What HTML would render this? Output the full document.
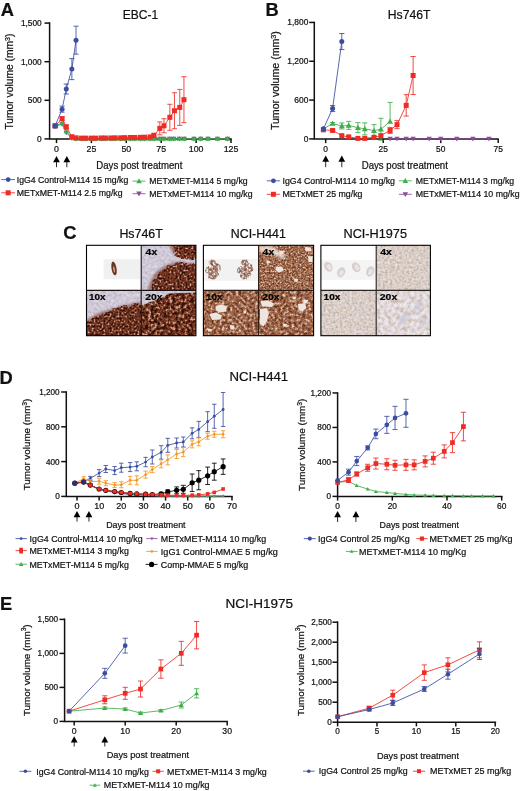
<!DOCTYPE html>
<html lang="en"><head><meta charset="utf-8"><title>Tumor volume figure</title>
<style>html,body{margin:0;padding:0;background:#fff}svg{display:block}text{font-family:"Liberation Sans",sans-serif;fill:#111;stroke:#111;stroke-width:0.22px}</style></head><body>
<svg width="520" height="791" viewBox="0 0 520 791">
<rect width="520" height="791" fill="#fff"/>

<!-- panel A -->
<text x="0.7" y="16.4" font-size="18.3" font-weight="bold">A</text>
<text x="140.5" y="18.6" font-size="12.8" text-anchor="middle" textLength="35.4" lengthAdjust="spacingAndGlyphs">EBC-1</text>
<g stroke="#111111" stroke-width="1.5" fill="none" stroke-linecap="butt"><path d="M49.6 22.35V138.9H231.75"/><path d="M56.5 138.9v4.2"/><path d="M91.4 138.9v4.2"/><path d="M126.3 138.9v4.2"/><path d="M161.2 138.9v4.2"/><path d="M196.1 138.9v4.2"/><path d="M231 138.9v4.2"/><path d="M49.6 138.9h-5.1"/><path d="M49.6 100.3h-5.1"/><path d="M49.6 61.7h-5.1"/><path d="M49.6 23.1h-5.1"/></g>
<text x="56.5" y="152.3" font-size="8.8" text-anchor="middle">0</text>
<text x="91.4" y="152.3" font-size="8.8" text-anchor="middle">25</text>
<text x="126.3" y="152.3" font-size="8.8" text-anchor="middle">50</text>
<text x="161.2" y="152.3" font-size="8.8" text-anchor="middle">75</text>
<text x="196.1" y="152.3" font-size="8.8" text-anchor="middle">100</text>
<text x="231" y="152.3" font-size="8.8" text-anchor="middle">125</text>
<text x="41.7" y="141.89" font-size="8.3" text-anchor="end">0</text>
<text x="41.7" y="103.29" font-size="8.3" text-anchor="end">500</text>
<text x="41.7" y="64.69" font-size="8.3" text-anchor="end">1,000</text>
<text x="41.7" y="26.09" font-size="8.3" text-anchor="end">1,500</text>
<text x="96.3" y="168.6" font-size="10.3" textLength="86" lengthAdjust="spacingAndGlyphs">Days post treatment</text>
<text transform="translate(13.3 81.6) rotate(-90)" font-size="10" text-anchor="middle" textLength="96" lengthAdjust="spacingAndGlyphs">Tumor volume (mm<tspan font-size="6.8" dy="-3.2">3</tspan><tspan dy="3.2">)</tspan></text>
<g><path d="M55.1 125.93L62.08 124.23L66.27 132.72L71.86 138.28L76.04 138.9L81.63 138.9L85.82 138.9L91.4 138.9L95.59 138.9L101.17 138.9L105.36 138.9L110.94 138.9L115.13 138.9L120.72 138.9L124.9 138.9L130.49 138.9L134.68 138.9L140.26 138.9L144.45 138.9L150.03 138.9L154.22 138.9L159.8 138.9L163.99 138.9L169.58 138.9L173.76 138.9L179.35 138.9L184.23 138.9L194.01 138.9L200.71 138.9L207.97 138.9L217.46 138.9L227.51 138.9" stroke="#8e4a9d" stroke-width="0.85" fill="none" stroke-linejoin="round"/><path d="M55.1 128.57L57.74 123.89L52.46 123.89Z" fill="#8e4a9d"/><path d="M62.08 126.87L64.72 122.19L59.44 122.19Z" fill="#8e4a9d"/><path d="M66.27 135.36L68.91 130.68L63.63 130.68Z" fill="#8e4a9d"/><path d="M71.86 140.92L74.5 136.24L69.22 136.24Z" fill="#8e4a9d"/><path d="M76.04 141.54L78.68 136.86L73.4 136.86Z" fill="#8e4a9d"/><path d="M81.63 141.54L84.27 136.86L78.99 136.86Z" fill="#8e4a9d"/><path d="M85.82 141.54L88.46 136.86L83.18 136.86Z" fill="#8e4a9d"/><path d="M91.4 141.54L94.04 136.86L88.76 136.86Z" fill="#8e4a9d"/><path d="M95.59 141.54L98.23 136.86L92.95 136.86Z" fill="#8e4a9d"/><path d="M101.17 141.54L103.81 136.86L98.53 136.86Z" fill="#8e4a9d"/><path d="M105.36 141.54L108 136.86L102.72 136.86Z" fill="#8e4a9d"/><path d="M110.94 141.54L113.58 136.86L108.3 136.86Z" fill="#8e4a9d"/><path d="M115.13 141.54L117.77 136.86L112.49 136.86Z" fill="#8e4a9d"/><path d="M120.72 141.54L123.36 136.86L118.08 136.86Z" fill="#8e4a9d"/><path d="M124.9 141.54L127.54 136.86L122.26 136.86Z" fill="#8e4a9d"/><path d="M130.49 141.54L133.13 136.86L127.85 136.86Z" fill="#8e4a9d"/><path d="M134.68 141.54L137.32 136.86L132.04 136.86Z" fill="#8e4a9d"/><path d="M140.26 141.54L142.9 136.86L137.62 136.86Z" fill="#8e4a9d"/><path d="M144.45 141.54L147.09 136.86L141.81 136.86Z" fill="#8e4a9d"/><path d="M150.03 141.54L152.67 136.86L147.39 136.86Z" fill="#8e4a9d"/><path d="M154.22 141.54L156.86 136.86L151.58 136.86Z" fill="#8e4a9d"/><path d="M159.8 141.54L162.44 136.86L157.16 136.86Z" fill="#8e4a9d"/><path d="M163.99 141.54L166.63 136.86L161.35 136.86Z" fill="#8e4a9d"/><path d="M169.58 141.54L172.22 136.86L166.94 136.86Z" fill="#8e4a9d"/><path d="M173.76 141.54L176.4 136.86L171.12 136.86Z" fill="#8e4a9d"/><path d="M179.35 141.54L181.99 136.86L176.71 136.86Z" fill="#8e4a9d"/><path d="M184.23 141.54L186.87 136.86L181.59 136.86Z" fill="#8e4a9d"/><path d="M194.01 141.54L196.65 136.86L191.37 136.86Z" fill="#8e4a9d"/><path d="M200.71 141.54L203.35 136.86L198.07 136.86Z" fill="#8e4a9d"/><path d="M207.97 141.54L210.61 136.86L205.33 136.86Z" fill="#8e4a9d"/><path d="M217.46 141.54L220.1 136.86L214.82 136.86Z" fill="#8e4a9d"/><path d="M227.51 141.54L230.15 136.86L224.87 136.86Z" fill="#8e4a9d"/></g>
<g><path d="M55.1 125.93L62.08 123.07L66.27 131.18L71.86 137.82L76.04 138.75L81.63 138.75L85.82 138.75L91.4 138.75L95.59 138.75L101.17 138.75L105.36 138.75L110.94 138.75L115.13 138.75L120.72 138.75L124.9 138.75L130.49 138.75L134.68 138.75L140.26 138.75L144.45 138.75L150.03 138.75L154.22 138.75L159.8 138.75L163.99 138.75L169.58 138.75L173.76 138.75L179.35 138.75L184.23 138.75L194.01 138.75L200.71 138.75L207.97 138.75L217.46 138.75L227.51 138.75" stroke="#3fae49" stroke-width="0.85" fill="none" stroke-linejoin="round"/><path d="M55.1 123.18L57.85 128.06L52.35 128.06Z" fill="#3fae49"/><path d="M62.08 120.32L64.83 125.2L59.33 125.2Z" fill="#3fae49"/><path d="M66.27 128.43L69.02 133.31L63.52 133.31Z" fill="#3fae49"/><path d="M71.86 135.07L74.61 139.94L69.11 139.94Z" fill="#3fae49"/><path d="M76.04 136L78.79 140.87L73.29 140.87Z" fill="#3fae49"/><path d="M81.63 136L84.38 140.87L78.88 140.87Z" fill="#3fae49"/><path d="M85.82 136L88.57 140.87L83.07 140.87Z" fill="#3fae49"/><path d="M91.4 136L94.15 140.87L88.65 140.87Z" fill="#3fae49"/><path d="M95.59 136L98.34 140.87L92.84 140.87Z" fill="#3fae49"/><path d="M101.17 136L103.92 140.87L98.42 140.87Z" fill="#3fae49"/><path d="M105.36 136L108.11 140.87L102.61 140.87Z" fill="#3fae49"/><path d="M110.94 136L113.69 140.87L108.19 140.87Z" fill="#3fae49"/><path d="M115.13 136L117.88 140.87L112.38 140.87Z" fill="#3fae49"/><path d="M120.72 136L123.47 140.87L117.97 140.87Z" fill="#3fae49"/><path d="M124.9 136L127.65 140.87L122.15 140.87Z" fill="#3fae49"/><path d="M130.49 136L133.24 140.87L127.74 140.87Z" fill="#3fae49"/><path d="M134.68 136L137.43 140.87L131.93 140.87Z" fill="#3fae49"/><path d="M140.26 136L143.01 140.87L137.51 140.87Z" fill="#3fae49"/><path d="M144.45 136L147.2 140.87L141.7 140.87Z" fill="#3fae49"/><path d="M150.03 136L152.78 140.87L147.28 140.87Z" fill="#3fae49"/><path d="M154.22 136L156.97 140.87L151.47 140.87Z" fill="#3fae49"/><path d="M159.8 136L162.55 140.87L157.05 140.87Z" fill="#3fae49"/><path d="M163.99 136L166.74 140.87L161.24 140.87Z" fill="#3fae49"/><path d="M169.58 136L172.33 140.87L166.83 140.87Z" fill="#3fae49"/><path d="M173.76 136L176.51 140.87L171.01 140.87Z" fill="#3fae49"/><path d="M179.35 136L182.1 140.87L176.6 140.87Z" fill="#3fae49"/><path d="M184.23 136L186.98 140.87L181.48 140.87Z" fill="#3fae49"/><path d="M194.01 136L196.76 140.87L191.26 140.87Z" fill="#3fae49"/><path d="M200.71 136L203.46 140.87L197.96 140.87Z" fill="#3fae49"/><path d="M207.97 136L210.72 140.87L205.22 140.87Z" fill="#3fae49"/><path d="M217.46 136L220.21 140.87L214.71 140.87Z" fill="#3fae49"/><path d="M227.51 136L230.26 140.87L224.76 140.87Z" fill="#3fae49"/></g>
<g><path d="M62.08 116.67V120.67M59.48 116.67h5.2M59.48 120.67h5.2M66.27 124.93V128.93M63.67 124.93h5.2M63.67 128.93h5.2M153.94 133.35V137.35M151.34 133.35h5.2M151.34 137.35h5.2M159.8 121.9V134.9M157.2 121.9h5.2M157.2 134.9h5.2M163.99 118.78V132.78M161.39 118.78h5.2M161.39 132.78h5.2M169.86 104.28V130.28M167.26 104.28h5.2M167.26 130.28h5.2M174.46 92.72V128.72M171.86 92.72h5.2M171.86 128.72h5.2M179.77 89.4V125.4M177.17 89.4h5.2M177.17 125.4h5.2M183.95 76.68V122.68M181.35 76.68h5.2M181.35 122.68h5.2" stroke="#ee2b24" stroke-width="0.85" fill="none"/><path d="M55.1 125.93L62.08 118.67L66.27 126.93L71.86 136.74L76.04 137.82L81.63 138.13L85.82 138.13L91.4 138.13L95.59 138.13L101.17 137.97L105.36 137.97L110.94 137.97L115.13 137.82L120.72 137.82L124.9 137.66L130.49 137.51L134.68 137.51L140.26 137.36L144.45 137.2L150.03 136.89L153.94 135.35L159.8 128.4L163.99 125.78L169.86 117.28L174.46 110.72L179.77 107.4L183.95 99.68" stroke="#ee2b24" stroke-width="0.85" fill="none" stroke-linejoin="round"/><rect x="52.6" y="123.43" width="5" height="5" fill="#ee2b24"/><rect x="59.58" y="116.17" width="5" height="5" fill="#ee2b24"/><rect x="63.77" y="124.43" width="5" height="5" fill="#ee2b24"/><rect x="69.36" y="134.24" width="5" height="5" fill="#ee2b24"/><rect x="73.54" y="135.32" width="5" height="5" fill="#ee2b24"/><rect x="79.13" y="135.63" width="5" height="5" fill="#ee2b24"/><rect x="83.32" y="135.63" width="5" height="5" fill="#ee2b24"/><rect x="88.9" y="135.63" width="5" height="5" fill="#ee2b24"/><rect x="93.09" y="135.63" width="5" height="5" fill="#ee2b24"/><rect x="98.67" y="135.47" width="5" height="5" fill="#ee2b24"/><rect x="102.86" y="135.47" width="5" height="5" fill="#ee2b24"/><rect x="108.44" y="135.47" width="5" height="5" fill="#ee2b24"/><rect x="112.63" y="135.32" width="5" height="5" fill="#ee2b24"/><rect x="118.22" y="135.32" width="5" height="5" fill="#ee2b24"/><rect x="122.4" y="135.16" width="5" height="5" fill="#ee2b24"/><rect x="127.99" y="135.01" width="5" height="5" fill="#ee2b24"/><rect x="132.18" y="135.01" width="5" height="5" fill="#ee2b24"/><rect x="137.76" y="134.86" width="5" height="5" fill="#ee2b24"/><rect x="141.95" y="134.7" width="5" height="5" fill="#ee2b24"/><rect x="147.53" y="134.39" width="5" height="5" fill="#ee2b24"/><rect x="151.44" y="132.85" width="5" height="5" fill="#ee2b24"/><rect x="157.3" y="125.9" width="5" height="5" fill="#ee2b24"/><rect x="161.49" y="123.28" width="5" height="5" fill="#ee2b24"/><rect x="167.36" y="114.78" width="5" height="5" fill="#ee2b24"/><rect x="171.96" y="108.22" width="5" height="5" fill="#ee2b24"/><rect x="177.27" y="104.9" width="5" height="5" fill="#ee2b24"/><rect x="181.45" y="97.18" width="5" height="5" fill="#ee2b24"/></g>
<g><path d="M62.08 106.18V112.18M59.48 106.18h5.2M59.48 112.18h5.2M66.27 84.03V94.03M63.67 84.03h5.2M63.67 94.03h5.2M71.86 58.61V79.61M69.26 58.61h5.2M69.26 79.61h5.2M76.04 26.16V54.16M73.44 26.16h5.2M73.44 54.16h5.2" stroke="#3b4da0" stroke-width="0.85" fill="none"/><path d="M55.1 125.93L62.08 109.18L66.27 89.03L71.86 69.11L76.04 40.16" stroke="#3b4da0" stroke-width="0.85" fill="none" stroke-linejoin="round"/><circle cx="55.1" cy="125.93" r="2.5" fill="#3b4da0"/><circle cx="62.08" cy="109.18" r="2.5" fill="#3b4da0"/><circle cx="66.27" cy="89.03" r="2.5" fill="#3b4da0"/><circle cx="71.86" cy="69.11" r="2.5" fill="#3b4da0"/><circle cx="76.04" cy="40.16" r="2.5" fill="#3b4da0"/></g>
<rect x="52.7" y="123.53" width="4.8" height="4.8" fill="#3b4da0"/>
<path d="M56.5 156L59.9 162.2L53.1 162.2Z" fill="#000"/><path d="M56.5 160V167.2" stroke="#000" stroke-width="0.85"/>
<path d="M66.83 156L70.23 162.2L63.43 162.2Z" fill="#000"/><path d="M66.83 160V167.2" stroke="#000" stroke-width="0.85"/>
<path d="M1.3 179.6H15" stroke="#3b4da0" stroke-width="0.85"/>
<circle cx="8.15" cy="179.6" r="2.4" fill="#3b4da0"/>
<text x="16.8" y="182.6" font-size="9.4" textLength="111.5" lengthAdjust="spacingAndGlyphs">IgG4 Control-M114 15 mg/kg</text>
<path d="M1.3 192.8H15" stroke="#ee2b24" stroke-width="0.85"/>
<rect x="5.65" y="190.3" width="5" height="5" fill="#ee2b24"/>
<text x="16.8" y="195.8" font-size="9.4" textLength="105.8" lengthAdjust="spacingAndGlyphs">METxMET-M114 2.5 mg/kg</text>
<path d="M132.5 181.1H145.5" stroke="#3fae49" stroke-width="0.85"/>
<path d="M139 178.35L141.75 183.22L136.25 183.22Z" fill="#3fae49"/>
<text x="149.3" y="184" font-size="9.4" textLength="98.3" lengthAdjust="spacingAndGlyphs">METxMET-M114 5 mg/kg</text>
<path d="M132.5 193.7H145.5" stroke="#8e4a9d" stroke-width="0.85"/>
<path d="M139 196.45L141.75 191.57L136.25 191.57Z" fill="#8e4a9d"/>
<text x="149.3" y="196.9" font-size="9.4" textLength="103.3" lengthAdjust="spacingAndGlyphs">METxMET-M114 10 mg/kg</text>
<!-- panel B -->
<text x="265.6" y="16.4" font-size="18.3" font-weight="bold">B</text>
<text x="409.1" y="18.6" font-size="12.8" text-anchor="middle" textLength="42.7" lengthAdjust="spacingAndGlyphs">Hs746T</text>
<g stroke="#111111" stroke-width="1.5" fill="none" stroke-linecap="butt"><path d="M314.3 21.65V138.9H498.75"/><path d="M325.7 138.9v4.2"/><path d="M383.2 138.9v4.2"/><path d="M440.7 138.9v4.2"/><path d="M498.2 138.9v4.2"/><path d="M314.3 138.9h-5.1"/><path d="M314.3 100.08h-5.1"/><path d="M314.3 61.26h-5.1"/><path d="M314.3 22.44h-5.1"/></g>
<text x="325.7" y="152.2" font-size="8.4" text-anchor="middle">0</text>
<text x="383.2" y="152.2" font-size="8.4" text-anchor="middle">25</text>
<text x="440.7" y="152.2" font-size="8.4" text-anchor="middle">50</text>
<text x="498.2" y="152.2" font-size="8.4" text-anchor="middle">75</text>
<text x="308.3" y="141.92" font-size="8.4" text-anchor="end">0</text>
<text x="308.3" y="103.1" font-size="8.4" text-anchor="end">600</text>
<text x="308.3" y="64.28" font-size="8.4" text-anchor="end">1,200</text>
<text x="308.3" y="25.46" font-size="8.4" text-anchor="end">1,800</text>
<text x="361.7" y="168.5" font-size="10.3" textLength="86.2" lengthAdjust="spacingAndGlyphs">Days post treatment</text>
<text transform="translate(279.3 80.6) rotate(-90)" font-size="10.3" text-anchor="middle" textLength="99" lengthAdjust="spacingAndGlyphs">Tumor volume (mm<tspan font-size="7" dy="-3.2">3</tspan><tspan dy="3.2">)</tspan></text>
<g><path d="M390.1 138.9L397 138.9L406.2 138.9L413.1 138.9L429.2 138.9L440.7 138.9L456.8 138.9L472.9 138.9L489 138.9" stroke="#8e4a9d" stroke-width="0.85" fill="none" stroke-linejoin="round"/><path d="M390.1 141.54L392.74 136.86L387.46 136.86Z" fill="#8e4a9d"/><path d="M397 141.54L399.64 136.86L394.36 136.86Z" fill="#8e4a9d"/><path d="M406.2 141.54L408.84 136.86L403.56 136.86Z" fill="#8e4a9d"/><path d="M413.1 141.54L415.74 136.86L410.46 136.86Z" fill="#8e4a9d"/><path d="M429.2 141.54L431.84 136.86L426.56 136.86Z" fill="#8e4a9d"/><path d="M440.7 141.54L443.34 136.86L438.06 136.86Z" fill="#8e4a9d"/><path d="M456.8 141.54L459.44 136.86L454.16 136.86Z" fill="#8e4a9d"/><path d="M472.9 141.54L475.54 136.86L470.26 136.86Z" fill="#8e4a9d"/><path d="M489 141.54L491.64 136.86L486.36 136.86Z" fill="#8e4a9d"/></g>
<g><path d="M332.6 122.5V124.5M330 122.5h5.2M330 124.5h5.2M341.8 122.96V128.96M339.2 122.96h5.2M339.2 128.96h5.2M348.7 121.38V129.38M346.1 121.38h5.2M346.1 129.38h5.2M357.9 122.64V132.64M355.3 122.64h5.2M355.3 132.64h5.2M364.8 122.87V134.87M362.2 122.87h5.2M362.2 134.87h5.2M374 124.62V136.62M371.4 124.62h5.2M371.4 136.62h5.2M380.9 118.26V140.26M378.3 118.26h5.2M378.3 140.26h5.2M390.1 102.43V121.43M387.5 102.43h5.2" stroke="#3fae49" stroke-width="0.85" fill="none"/><path d="M323.4 128.87L332.6 123.5L341.8 125.96L348.7 125.38L357.9 127.64L364.8 128.87L374 130.62L380.9 129.26L390.1 121.43" stroke="#3fae49" stroke-width="0.85" fill="none" stroke-linejoin="round"/><path d="M323.4 125.9L326.37 131.17L320.43 131.17Z" fill="#3fae49"/><path d="M332.6 120.53L335.57 125.8L329.63 125.8Z" fill="#3fae49"/><path d="M341.8 122.99L344.77 128.25L338.83 128.25Z" fill="#3fae49"/><path d="M348.7 122.41L351.67 127.67L345.73 127.67Z" fill="#3fae49"/><path d="M357.9 124.67L360.87 129.94L354.93 129.94Z" fill="#3fae49"/><path d="M364.8 125.9L367.77 131.17L361.83 131.17Z" fill="#3fae49"/><path d="M374 127.65L376.97 132.91L371.03 132.91Z" fill="#3fae49"/><path d="M380.9 126.29L383.87 131.55L377.93 131.55Z" fill="#3fae49"/><path d="M390.1 118.46L393.07 123.73L387.13 123.73Z" fill="#3fae49"/></g>
<g><path d="M332.6 129.42V131.42M330 129.42h5.2M330 131.42h5.2M390.1 127.42V133.42M387.5 127.42h5.2M387.5 133.42h5.2M397 120.67V128.67M394.4 120.67h5.2M394.4 128.67h5.2M406.2 94.69V116.09M403.6 94.69h5.2M403.6 116.09h5.2M413.1 56.49V94.49M410.5 56.49h5.2M410.5 94.49h5.2" stroke="#ee2b24" stroke-width="0.85" fill="none"/><path d="M323.4 129.84L332.6 130.42L341.8 135.66L348.7 136.89L357.9 138.38L364.8 138.38L374 137.28L380.9 135.66L390.1 130.42L397 124.67L406.2 105.39L413.1 75.49" stroke="#ee2b24" stroke-width="0.85" fill="none" stroke-linejoin="round"/><rect x="320.9" y="127.34" width="5" height="5" fill="#ee2b24"/><rect x="330.1" y="127.92" width="5" height="5" fill="#ee2b24"/><rect x="339.3" y="133.16" width="5" height="5" fill="#ee2b24"/><rect x="346.2" y="134.39" width="5" height="5" fill="#ee2b24"/><rect x="355.4" y="135.88" width="5" height="5" fill="#ee2b24"/><rect x="362.3" y="135.88" width="5" height="5" fill="#ee2b24"/><rect x="371.5" y="134.78" width="5" height="5" fill="#ee2b24"/><rect x="378.4" y="133.16" width="5" height="5" fill="#ee2b24"/><rect x="387.6" y="127.92" width="5" height="5" fill="#ee2b24"/><rect x="394.5" y="122.17" width="5" height="5" fill="#ee2b24"/><rect x="403.7" y="102.89" width="5" height="5" fill="#ee2b24"/><rect x="410.6" y="72.99" width="5" height="5" fill="#ee2b24"/></g>
<g><path d="M332.6 105.56V111.56M330 105.56h5.2M330 111.56h5.2M341.8 33.53V49.53M339.2 33.53h5.2M339.2 49.53h5.2" stroke="#3b4da0" stroke-width="0.85" fill="none"/><path d="M323.4 128.87L332.6 108.56L341.8 41.53" stroke="#3b4da0" stroke-width="0.85" fill="none" stroke-linejoin="round"/><circle cx="323.4" cy="128.87" r="2.5" fill="#3b4da0"/><circle cx="332.6" cy="108.56" r="2.5" fill="#3b4da0"/><circle cx="341.8" cy="41.53" r="2.5" fill="#3b4da0"/></g>
<path d="M325.7 155.5L329.1 161.7L322.3 161.7Z" fill="#000"/><path d="M325.7 159.5V167.2" stroke="#000" stroke-width="0.85"/>
<path d="M341.8 155.5L345.2 161.7L338.4 161.7Z" fill="#000"/><path d="M341.8 159.5V167.2" stroke="#000" stroke-width="0.85"/>
<path d="M266.8 180.8H280" stroke="#3b4da0" stroke-width="0.85"/>
<circle cx="273.4" cy="180.8" r="2.4" fill="#3b4da0"/>
<text x="282.5" y="184" font-size="9.4" textLength="112.5" lengthAdjust="spacingAndGlyphs">IgG4 Control-M114 10 mg/kg</text>
<path d="M266.8 194.3H280" stroke="#ee2b24" stroke-width="0.85"/>
<rect x="270.9" y="191.8" width="5" height="5" fill="#ee2b24"/>
<text x="282.5" y="197.4" font-size="9.4" textLength="80" lengthAdjust="spacingAndGlyphs">METxMET 25 mg/kg</text>
<path d="M398.8 180.8H411.8" stroke="#3fae49" stroke-width="0.85"/>
<path d="M405.3 178.05L408.05 182.93L402.55 182.93Z" fill="#3fae49"/>
<text x="415.8" y="184" font-size="9.4" textLength="98.4" lengthAdjust="spacingAndGlyphs">METxMET-M114 3 mg/kg</text>
<path d="M398.8 194.3H411.8" stroke="#8e4a9d" stroke-width="0.85"/>
<path d="M405.3 197.05L408.05 192.18L402.55 192.18Z" fill="#8e4a9d"/>
<text x="415.8" y="197.4" font-size="9.4" textLength="103.8" lengthAdjust="spacingAndGlyphs">METxMET-M114 10 mg/kg</text>
<!-- panel D -->
<text x="-0.4" y="383.5" font-size="18.3" font-weight="bold">D</text>
<text x="229.5" y="380.6" font-size="12.3" textLength="58.7" lengthAdjust="spacingAndGlyphs">NCI-H441</text>
<g stroke="#111111" stroke-width="1.5" fill="none" stroke-linecap="butt"><path d="M66.3 391.25V496.4H232.75"/><path d="M77 496.4v4.2"/><path d="M99.14 496.4v4.2"/><path d="M121.28 496.4v4.2"/><path d="M143.42 496.4v4.2"/><path d="M165.56 496.4v4.2"/><path d="M187.7 496.4v4.2"/><path d="M209.84 496.4v4.2"/><path d="M231.98 496.4v4.2"/><path d="M66.3 496.4h-5.1"/><path d="M66.3 461.6h-5.1"/><path d="M66.3 426.8h-5.1"/><path d="M66.3 392h-5.1"/></g>
<text x="77" y="508.8" font-size="9" text-anchor="middle">0</text>
<text x="99.14" y="508.8" font-size="9" text-anchor="middle">10</text>
<text x="121.28" y="508.8" font-size="9" text-anchor="middle">20</text>
<text x="143.42" y="508.8" font-size="9" text-anchor="middle">30</text>
<text x="165.56" y="508.8" font-size="9" text-anchor="middle">40</text>
<text x="187.7" y="508.8" font-size="9" text-anchor="middle">50</text>
<text x="209.84" y="508.8" font-size="9" text-anchor="middle">60</text>
<text x="231.98" y="508.8" font-size="9" text-anchor="middle">70</text>
<text x="59.7" y="499.35" font-size="8.2" text-anchor="end">0</text>
<text x="59.7" y="464.55" font-size="8.2" text-anchor="end">400</text>
<text x="59.7" y="429.75" font-size="8.2" text-anchor="end">800</text>
<text x="59.7" y="394.95" font-size="8.2" text-anchor="end">1,200</text>
<text x="106.2" y="527.6" font-size="9.6" textLength="79.4" lengthAdjust="spacingAndGlyphs">Days post treatment</text>
<text transform="translate(30.1 444.5) rotate(-90)" font-size="9.6" text-anchor="middle" textLength="91.7" lengthAdjust="spacingAndGlyphs">Tumor volume (mm<tspan font-size="6.53" dy="-3.2">3</tspan><tspan dy="3.2">)</tspan></text>
<g><path d="M83.64 480.78V482.78M81.44 480.78h4.4M81.44 482.78h4.4M90.28 476.39V480.39M88.08 476.39h4.4M88.08 480.39h4.4M99.14 469.58V476.58M96.94 469.58h4.4M96.94 476.58h4.4M105.78 465.5V472.5M103.58 465.5h4.4M103.58 472.5h4.4M114.64 466.56V474.56M112.44 466.56h4.4M112.44 474.56h4.4M121.28 463.19V472.19M119.08 463.19h4.4M119.08 472.19h4.4M130.14 462.58V471.58M127.94 462.58h4.4M127.94 471.58h4.4M136.78 461.8V470.8M134.58 461.8h4.4M134.58 470.8h4.4M145.63 457.33V466.73M143.43 457.33h4.4M143.43 466.73h4.4M152.28 449.99V463.99M150.08 449.99h4.4M150.08 463.99h4.4M161.13 445.68V459.08M158.93 445.68h4.4M158.93 459.08h4.4M167.77 438.33V452.33M165.57 438.33h4.4M165.57 452.33h4.4M176.63 437.98V447.98M174.43 437.98h4.4M174.43 447.98h4.4M183.27 437.02V447.02M181.07 437.02h4.4M181.07 447.02h4.4M192.13 427.82V438.82M189.93 427.82h4.4M189.93 438.82h4.4M198.77 421.41V437.41M196.57 421.41h4.4M196.57 437.41h4.4M207.63 411.67V431.67M205.43 411.67h4.4M205.43 431.67h4.4M214.27 404.27V428.27M212.07 404.27h4.4M212.07 428.27h4.4M223.12 392.49V426.49M220.92 392.49h4.4M220.92 426.49h4.4" stroke="#3b4da0" stroke-width="0.85" fill="none"/><path d="M74.79 483.18L83.64 481.78L90.28 478.39L99.14 473.08L105.78 469L114.64 470.56L121.28 467.69L130.14 467.08L136.78 466.3L145.63 462.03L152.28 456.99L161.13 452.38L167.77 445.33L176.63 442.98L183.27 442.02L192.13 433.32L198.77 429.41L207.63 421.67L214.27 416.27L223.12 409.49" stroke="#3b4da0" stroke-width="0.85" fill="none" stroke-linejoin="round"/><circle cx="74.79" cy="483.18" r="1.4" fill="#3b4da0"/><circle cx="83.64" cy="481.78" r="1.4" fill="#3b4da0"/><circle cx="90.28" cy="478.39" r="1.4" fill="#3b4da0"/><circle cx="99.14" cy="473.08" r="1.4" fill="#3b4da0"/><circle cx="105.78" cy="469" r="1.4" fill="#3b4da0"/><circle cx="114.64" cy="470.56" r="1.4" fill="#3b4da0"/><circle cx="121.28" cy="467.69" r="1.4" fill="#3b4da0"/><circle cx="130.14" cy="467.08" r="1.4" fill="#3b4da0"/><circle cx="136.78" cy="466.3" r="1.4" fill="#3b4da0"/><circle cx="145.63" cy="462.03" r="1.4" fill="#3b4da0"/><circle cx="152.28" cy="456.99" r="1.4" fill="#3b4da0"/><circle cx="161.13" cy="452.38" r="1.4" fill="#3b4da0"/><circle cx="167.77" cy="445.33" r="1.4" fill="#3b4da0"/><circle cx="176.63" cy="442.98" r="1.4" fill="#3b4da0"/><circle cx="183.27" cy="442.02" r="1.4" fill="#3b4da0"/><circle cx="192.13" cy="433.32" r="1.4" fill="#3b4da0"/><circle cx="198.77" cy="429.41" r="1.4" fill="#3b4da0"/><circle cx="207.63" cy="421.67" r="1.4" fill="#3b4da0"/><circle cx="214.27" cy="416.27" r="1.4" fill="#3b4da0"/><circle cx="223.12" cy="409.49" r="1.4" fill="#3b4da0"/></g>
<g><path d="M83.64 476.74V480.74M81.44 476.74h4.4M81.44 480.74h4.4M90.28 479.61V483.61M88.08 479.61h4.4M88.08 483.61h4.4M99.14 478.26V484.26M96.94 478.26h4.4M96.94 484.26h4.4M105.78 480.68V485.68M103.58 480.68h4.4M103.58 485.68h4.4M114.64 482.59V487.59M112.44 482.59h4.4M112.44 487.59h4.4M121.28 481.74V487.74M119.08 481.74h4.4M119.08 487.74h4.4M130.14 476.3V484.3M127.94 476.3h4.4M127.94 484.3h4.4M136.78 475.8V484.8M134.58 475.8h4.4M134.58 484.8h4.4M145.63 471.15V478.15M143.43 471.15h4.4M143.43 478.15h4.4M152.28 466.6V472.6M150.08 466.6h4.4M150.08 472.6h4.4M161.13 459.77V467.77M158.93 459.77h4.4M158.93 467.77h4.4M167.77 454.86V464.86M165.57 454.86h4.4M165.57 464.86h4.4M176.63 449.53V458.53M174.43 449.53h4.4M174.43 458.53h4.4M183.27 447.62V456.62M181.07 447.62h4.4M181.07 456.62h4.4M192.13 440.87V447.87M189.93 440.87h4.4M189.93 447.87h4.4M198.77 437.85V445.85M196.57 437.85h4.4M196.57 445.85h4.4M207.63 433.2V439.2M205.43 433.2h4.4M205.43 439.2h4.4M214.27 431.28V437.28M212.07 431.28h4.4M212.07 437.28h4.4M223.12 430.78V437.78M220.92 430.78h4.4M220.92 437.78h4.4" stroke="#f7941e" stroke-width="0.85" fill="none"/><path d="M74.79 483.18L83.64 478.74L90.28 481.61L99.14 481.26L105.78 483.18L114.64 485.09L121.28 484.74L130.14 480.3L136.78 480.3L145.63 474.65L152.28 469.6L161.13 463.77L167.77 459.86L176.63 454.03L183.27 452.12L192.13 444.37L198.77 441.85L207.63 436.2L214.27 434.28L223.12 434.28" stroke="#f7941e" stroke-width="0.85" fill="none" stroke-linejoin="round"/><path d="M74.79 481.5L76.47 483.18L74.79 484.86L73.11 483.18Z" fill="#f7941e"/><path d="M83.64 477.06L85.32 478.74L83.64 480.42L81.96 478.74Z" fill="#f7941e"/><path d="M90.28 479.93L91.96 481.61L90.28 483.29L88.6 481.61Z" fill="#f7941e"/><path d="M99.14 479.58L100.82 481.26L99.14 482.94L97.46 481.26Z" fill="#f7941e"/><path d="M105.78 481.5L107.46 483.18L105.78 484.86L104.1 483.18Z" fill="#f7941e"/><path d="M114.64 483.41L116.32 485.09L114.64 486.77L112.96 485.09Z" fill="#f7941e"/><path d="M121.28 483.06L122.96 484.74L121.28 486.42L119.6 484.74Z" fill="#f7941e"/><path d="M130.14 478.62L131.82 480.3L130.14 481.98L128.46 480.3Z" fill="#f7941e"/><path d="M136.78 478.62L138.46 480.3L136.78 481.98L135.1 480.3Z" fill="#f7941e"/><path d="M145.63 472.97L147.31 474.65L145.63 476.33L143.95 474.65Z" fill="#f7941e"/><path d="M152.28 467.92L153.96 469.6L152.28 471.28L150.6 469.6Z" fill="#f7941e"/><path d="M161.13 462.09L162.81 463.77L161.13 465.45L159.45 463.77Z" fill="#f7941e"/><path d="M167.77 458.18L169.45 459.86L167.77 461.54L166.09 459.86Z" fill="#f7941e"/><path d="M176.63 452.35L178.31 454.03L176.63 455.71L174.95 454.03Z" fill="#f7941e"/><path d="M183.27 450.44L184.95 452.12L183.27 453.8L181.59 452.12Z" fill="#f7941e"/><path d="M192.13 442.69L193.81 444.37L192.13 446.05L190.45 444.37Z" fill="#f7941e"/><path d="M198.77 440.17L200.45 441.85L198.77 443.53L197.09 441.85Z" fill="#f7941e"/><path d="M207.63 434.52L209.31 436.2L207.63 437.88L205.95 436.2Z" fill="#f7941e"/><path d="M214.27 432.6L215.95 434.28L214.27 435.96L212.59 434.28Z" fill="#f7941e"/><path d="M223.12 432.6L224.8 434.28L223.12 435.96L221.44 434.28Z" fill="#f7941e"/></g>
<g><path d="M74.79 483.18L83.64 482.22L90.28 485.52L99.14 489.44L105.78 491.01L114.64 492.4L121.28 493.44L130.14 494.49L136.78 495.01L145.63 495.53L152.28 495.88L161.13 496.05L167.77 496.23L176.63 496.31L183.27 496.4L192.13 496.4L198.77 496.4L207.63 496.4L214.27 496.4L223.12 496.4" stroke="#8e4a9d" stroke-width="0.85" fill="none" stroke-linejoin="round"/><path d="M74.79 484.61L76.22 482.07L73.36 482.07Z" fill="#8e4a9d"/><path d="M83.64 483.65L85.07 481.11L82.21 481.11Z" fill="#8e4a9d"/><path d="M90.28 486.95L91.71 484.42L88.85 484.42Z" fill="#8e4a9d"/><path d="M99.14 490.87L100.57 488.33L97.71 488.33Z" fill="#8e4a9d"/><path d="M105.78 492.44L107.21 489.9L104.35 489.9Z" fill="#8e4a9d"/><path d="M114.64 493.83L116.07 491.29L113.21 491.29Z" fill="#8e4a9d"/><path d="M121.28 494.87L122.71 492.34L119.85 492.34Z" fill="#8e4a9d"/><path d="M130.14 495.92L131.57 493.38L128.71 493.38Z" fill="#8e4a9d"/><path d="M136.78 496.44L138.21 493.9L135.35 493.9Z" fill="#8e4a9d"/><path d="M145.63 496.96L147.06 494.42L144.2 494.42Z" fill="#8e4a9d"/><path d="M152.28 497.31L153.71 494.77L150.85 494.77Z" fill="#8e4a9d"/><path d="M161.13 497.48L162.56 494.95L159.7 494.95Z" fill="#8e4a9d"/><path d="M167.77 497.66L169.2 495.12L166.34 495.12Z" fill="#8e4a9d"/><path d="M176.63 497.74L178.06 495.21L175.2 495.21Z" fill="#8e4a9d"/><path d="M183.27 497.83L184.7 495.29L181.84 495.29Z" fill="#8e4a9d"/><path d="M192.13 497.83L193.56 495.29L190.7 495.29Z" fill="#8e4a9d"/><path d="M198.77 497.83L200.2 495.29L197.34 495.29Z" fill="#8e4a9d"/><path d="M207.63 497.83L209.06 495.29L206.2 495.29Z" fill="#8e4a9d"/><path d="M214.27 497.83L215.7 495.29L212.84 495.29Z" fill="#8e4a9d"/><path d="M223.12 497.83L224.55 495.29L221.69 495.29Z" fill="#8e4a9d"/></g>
<g><path d="M74.79 483.18L83.64 482.04L90.28 485.26L99.14 489.18L105.78 490.66L114.64 492.05L121.28 493.09L130.14 494.14L136.78 494.66L145.63 495.18L152.28 495.53L161.13 495.7L167.77 495.88L176.63 495.96L183.27 496.05L192.13 496.05L198.77 496.05L207.63 495.96L214.27 495.88L223.12 495.7" stroke="#3fae49" stroke-width="0.85" fill="none" stroke-linejoin="round"/><path d="M74.79 481.75L76.22 484.28L73.36 484.28Z" fill="#3fae49"/><path d="M83.64 480.61L85.07 483.15L82.21 483.15Z" fill="#3fae49"/><path d="M90.28 483.83L91.71 486.37L88.85 486.37Z" fill="#3fae49"/><path d="M99.14 487.75L100.57 490.28L97.71 490.28Z" fill="#3fae49"/><path d="M105.78 489.23L107.21 491.76L104.35 491.76Z" fill="#3fae49"/><path d="M114.64 490.62L116.07 493.15L113.21 493.15Z" fill="#3fae49"/><path d="M121.28 491.66L122.71 494.2L119.85 494.2Z" fill="#3fae49"/><path d="M130.14 492.71L131.57 495.24L128.71 495.24Z" fill="#3fae49"/><path d="M136.78 493.23L138.21 495.76L135.35 495.76Z" fill="#3fae49"/><path d="M145.63 493.75L147.06 496.29L144.2 496.29Z" fill="#3fae49"/><path d="M152.28 494.1L153.71 496.63L150.85 496.63Z" fill="#3fae49"/><path d="M161.13 494.27L162.56 496.81L159.7 496.81Z" fill="#3fae49"/><path d="M167.77 494.45L169.2 496.98L166.34 496.98Z" fill="#3fae49"/><path d="M176.63 494.53L178.06 497.07L175.2 497.07Z" fill="#3fae49"/><path d="M183.27 494.62L184.7 497.16L181.84 497.16Z" fill="#3fae49"/><path d="M192.13 494.62L193.56 497.16L190.7 497.16Z" fill="#3fae49"/><path d="M198.77 494.62L200.2 497.16L197.34 497.16Z" fill="#3fae49"/><path d="M207.63 494.53L209.06 497.07L206.2 497.07Z" fill="#3fae49"/><path d="M214.27 494.45L215.7 496.98L212.84 496.98Z" fill="#3fae49"/><path d="M223.12 494.27L224.55 496.81L221.69 496.81Z" fill="#3fae49"/></g>
<g><path d="M161.13 492.38V495.38M158.73 492.38h4.8M158.73 495.38h4.8M167.77 489.88V493.88M165.37 489.88h4.8M165.37 493.88h4.8M176.63 486.91V493.71M174.23 486.91h4.8M174.23 493.71h4.8M183.27 485.35V493.35M180.87 485.35h4.8M180.87 493.35h4.8M192.13 474.04V491.44M189.73 474.04h4.8M189.73 491.44h4.8M198.77 470.62V489.82M196.37 470.62h4.8M196.37 489.82h4.8M207.63 467.08V484.48M205.23 467.08h4.8M205.23 484.48h4.8M214.27 463.19V480.19M211.87 463.19h4.8M211.87 480.19h4.8M223.12 458.95V474.35M220.72 458.95h4.8M220.72 474.35h4.8" stroke="#000000" stroke-width="0.85" fill="none"/><path d="M74.79 483.18L83.64 482.04L90.28 485.09L99.14 489L105.78 490.31L114.64 491.53L121.28 492.48L130.14 493.44L136.78 493.88L145.63 494.22L152.28 494.49L161.13 493.88L167.77 491.88L176.63 490.31L183.27 489.35L192.13 482.74L198.77 480.22L207.63 475.78L214.27 471.69L223.12 466.65" stroke="#000000" stroke-width="0.85" fill="none" stroke-linejoin="round"/><circle cx="74.79" cy="483.18" r="2.6" fill="#000000"/><circle cx="83.64" cy="482.04" r="2.6" fill="#000000"/><circle cx="90.28" cy="485.09" r="2.6" fill="#000000"/><circle cx="99.14" cy="489" r="2.6" fill="#000000"/><circle cx="105.78" cy="490.31" r="2.6" fill="#000000"/><circle cx="114.64" cy="491.53" r="2.6" fill="#000000"/><circle cx="121.28" cy="492.48" r="2.6" fill="#000000"/><circle cx="130.14" cy="493.44" r="2.6" fill="#000000"/><circle cx="136.78" cy="493.88" r="2.6" fill="#000000"/><circle cx="145.63" cy="494.22" r="2.6" fill="#000000"/><circle cx="152.28" cy="494.49" r="2.6" fill="#000000"/><circle cx="161.13" cy="493.88" r="2.6" fill="#000000"/><circle cx="167.77" cy="491.88" r="2.6" fill="#000000"/><circle cx="176.63" cy="490.31" r="2.6" fill="#000000"/><circle cx="183.27" cy="489.35" r="2.6" fill="#000000"/><circle cx="192.13" cy="482.74" r="2.6" fill="#000000"/><circle cx="198.77" cy="480.22" r="2.6" fill="#000000"/><circle cx="207.63" cy="475.78" r="2.6" fill="#000000"/><circle cx="214.27" cy="471.69" r="2.6" fill="#000000"/><circle cx="223.12" cy="466.65" r="2.6" fill="#000000"/></g>
<g><path d="M74.79 483.18L83.64 482.04L90.28 485.09L99.14 489L105.78 490.31L114.64 491.53L121.28 492.48L130.14 493.44L136.78 493.88L145.63 494.22L152.28 494.49L161.13 494.83L167.77 495.18L176.63 495.36L183.27 495.36L192.13 495.18L198.77 494.83L207.63 493.88L214.27 492.4L223.12 489" stroke="#ee2b24" stroke-width="0.85" fill="none" stroke-linejoin="round"/><rect x="72.99" y="481.38" width="3.6" height="3.6" fill="#ee2b24"/><rect x="81.84" y="480.24" width="3.6" height="3.6" fill="#ee2b24"/><rect x="88.48" y="483.29" width="3.6" height="3.6" fill="#ee2b24"/><rect x="97.34" y="487.2" width="3.6" height="3.6" fill="#ee2b24"/><rect x="103.98" y="488.51" width="3.6" height="3.6" fill="#ee2b24"/><rect x="112.84" y="489.73" width="3.6" height="3.6" fill="#ee2b24"/><rect x="119.48" y="490.68" width="3.6" height="3.6" fill="#ee2b24"/><rect x="128.34" y="491.64" width="3.6" height="3.6" fill="#ee2b24"/><rect x="134.98" y="492.08" width="3.6" height="3.6" fill="#ee2b24"/><rect x="143.83" y="492.42" width="3.6" height="3.6" fill="#ee2b24"/><rect x="150.48" y="492.69" width="3.6" height="3.6" fill="#ee2b24"/><rect x="159.33" y="493.03" width="3.6" height="3.6" fill="#ee2b24"/><rect x="165.97" y="493.38" width="3.6" height="3.6" fill="#ee2b24"/><rect x="174.83" y="493.56" width="3.6" height="3.6" fill="#ee2b24"/><rect x="181.47" y="493.56" width="3.6" height="3.6" fill="#ee2b24"/><rect x="190.33" y="493.38" width="3.6" height="3.6" fill="#ee2b24"/><rect x="196.97" y="493.03" width="3.6" height="3.6" fill="#ee2b24"/><rect x="205.83" y="492.08" width="3.6" height="3.6" fill="#ee2b24"/><rect x="212.47" y="490.6" width="3.6" height="3.6" fill="#ee2b24"/><rect x="221.32" y="487.2" width="3.6" height="3.6" fill="#ee2b24"/></g>
<circle cx="74.79" cy="483.18" r="2.4" fill="#2c2b7c"/>
<circle cx="83.64" cy="481.96" r="2.4" fill="#2c2b7c"/>
<path d="M77 511L80.4 517.2L73.6 517.2Z" fill="#000"/><path d="M77 515V521.6" stroke="#000" stroke-width="0.85"/>
<path d="M88.96 511L92.36 517.2L85.56 517.2Z" fill="#000"/><path d="M88.96 515V521.6" stroke="#000" stroke-width="0.85"/>
<path d="M15.5 538.6H26.8" stroke="#3b4da0" stroke-width="0.85"/>
<circle cx="21.15" cy="538.6" r="1.4" fill="#3b4da0"/>
<text x="29.6" y="541.7" font-size="9.5" textLength="113" lengthAdjust="spacingAndGlyphs">IgG4 Control-M114 10 mg/kg</text>
<path d="M15.5 550.6H26.8" stroke="#ee2b24" stroke-width="0.85"/>
<rect x="19.35" y="548.8" width="3.6" height="3.6" fill="#ee2b24"/>
<text x="29.5" y="554.4" font-size="9.5" textLength="99.3" lengthAdjust="spacingAndGlyphs">METxMET-M114 3 mg/kg</text>
<rect x="19.4" y="547.7" width="3.5" height="5.8" fill="#ee2b24"/>
<path d="M15.5 564.2H26.8" stroke="#3fae49" stroke-width="0.85"/>
<path d="M21.15 561.89L23.46 565.99L18.84 565.99Z" fill="#3fae49"/>
<text x="29.5" y="567.6" font-size="9.5" textLength="99.3" lengthAdjust="spacingAndGlyphs">METxMET-M114 5 mg/kg</text>
<path d="M146.2 538.6H157.6" stroke="#8e4a9d" stroke-width="0.85"/>
<path d="M151.9 540.14L153.44 537.41L150.36 537.41Z" fill="#8e4a9d"/>
<text x="160.8" y="541.8" font-size="9.5" textLength="105.3" lengthAdjust="spacingAndGlyphs">METxMET-M114 10 mg/kg</text>
<path d="M146.2 551.4H157.6" stroke="#f7941e" stroke-width="0.85"/>
<path d="M151.9 549.72L153.58 551.4L151.9 553.08L150.22 551.4Z" fill="#f7941e"/>
<text x="160.8" y="554.6" font-size="9.5" textLength="117" lengthAdjust="spacingAndGlyphs">IgG1 Control-MMAE 5 mg/kg</text>
<path d="M145.6 564.4H157.6" stroke="#000000" stroke-width="0.85"/>
<circle cx="151.6" cy="564.4" r="2.6" fill="#000000"/>
<text x="160.8" y="567.6" font-size="9.5" textLength="87.4" lengthAdjust="spacingAndGlyphs">Comp-MMAE 5 mg/kg</text>
<g stroke="#111111" stroke-width="1.5" fill="none" stroke-linecap="butt"><path d="M337.6 392.25V496.4H502.55"/><path d="M337.6 496.4v4.2"/><path d="M392.3 496.4v4.2"/><path d="M447 496.4v4.2"/><path d="M501.7 496.4v4.2"/><path d="M337.6 496.4h-5.1"/><path d="M337.6 461.92h-5.1"/><path d="M337.6 427.44h-5.1"/><path d="M337.6 392.96h-5.1"/></g>
<text x="337.6" y="509" font-size="8.4" text-anchor="middle">0</text>
<text x="392.3" y="509" font-size="8.4" text-anchor="middle">20</text>
<text x="447" y="509" font-size="8.4" text-anchor="middle">40</text>
<text x="501.7" y="509" font-size="8.4" text-anchor="middle">60</text>
<text x="331" y="499.35" font-size="8.2" text-anchor="end">0</text>
<text x="331" y="464.87" font-size="8.2" text-anchor="end">400</text>
<text x="331" y="430.39" font-size="8.2" text-anchor="end">800</text>
<text x="331" y="395.91" font-size="8.2" text-anchor="end">1,200</text>
<text x="379.6" y="528.2" font-size="9.6" textLength="79.4" lengthAdjust="spacingAndGlyphs">Days post treatment</text>
<text transform="translate(305.3 444.8) rotate(-90)" font-size="9.6" text-anchor="middle" textLength="92.4" lengthAdjust="spacingAndGlyphs">Tumor volume (mm<tspan font-size="6.53" dy="-3.2">3</tspan><tspan dy="3.2">)</tspan></text>
<g><path d="M337.6 482.35L348.54 481.31L356.75 485.54L367.69 489.07L375.89 491.57L386.83 492.52L395.04 493.38L405.98 494.42L414.18 495.02L425.12 495.19L433.33 495.37L444.26 495.62L452.47 495.71L463.41 495.88L471.62 495.97L482.56 496.06L493.5 496.06" stroke="#3fae49" stroke-width="0.85" fill="none" stroke-linejoin="round"/><path d="M337.6 480.37L339.58 483.88L335.62 483.88Z" fill="#3fae49"/><path d="M348.54 479.33L350.52 482.84L346.56 482.84Z" fill="#3fae49"/><path d="M356.75 483.56L358.73 487.07L354.76 487.07Z" fill="#3fae49"/><path d="M367.69 487.09L369.67 490.6L365.7 490.6Z" fill="#3fae49"/><path d="M375.89 489.59L377.87 493.1L373.91 493.1Z" fill="#3fae49"/><path d="M386.83 490.54L388.81 494.05L384.85 494.05Z" fill="#3fae49"/><path d="M395.04 491.4L397.02 494.91L393.06 494.91Z" fill="#3fae49"/><path d="M405.98 492.44L407.96 495.95L404 495.95Z" fill="#3fae49"/><path d="M414.18 493.04L416.16 496.55L412.2 496.55Z" fill="#3fae49"/><path d="M425.12 493.21L427.1 496.72L423.14 496.72Z" fill="#3fae49"/><path d="M433.33 493.39L435.31 496.9L431.35 496.9Z" fill="#3fae49"/><path d="M444.26 493.64L446.25 497.15L442.28 497.15Z" fill="#3fae49"/><path d="M452.47 493.73L454.45 497.24L450.49 497.24Z" fill="#3fae49"/><path d="M463.41 493.9L465.39 497.41L461.43 497.41Z" fill="#3fae49"/><path d="M471.62 493.99L473.6 497.5L469.63 497.5Z" fill="#3fae49"/><path d="M482.56 494.08L484.54 497.59L480.57 497.59Z" fill="#3fae49"/><path d="M493.5 494.08L495.48 497.59L491.51 497.59Z" fill="#3fae49"/></g>
<g><path d="M348.54 477.44V482.44M345.94 477.44h5.2M345.94 482.44h5.2M356.75 471.99V475.99M354.14 471.99h5.2M354.14 475.99h5.2M367.69 464.28V471.28M365.08 464.28h5.2M365.08 471.28h5.2M375.89 458.06V469.06M373.29 458.06h5.2M373.29 469.06h5.2M386.83 458.75V469.75M384.23 458.75h5.2M384.23 469.75h5.2M395.04 460.28V470.28M392.44 460.28h5.2M392.44 470.28h5.2M405.98 459.35V470.35M403.38 459.35h5.2M403.38 470.35h5.2M414.18 459.85V469.85M411.58 459.85h5.2M411.58 469.85h5.2M425.12 455.9V466.9M422.52 455.9h5.2M422.52 466.9h5.2M433.33 452.21V464.21M430.73 452.21h5.2M430.73 464.21h5.2M444.26 444.9V457.9M441.66 444.9h5.2M441.66 457.9h5.2M452.47 432.61V452.61M449.87 432.61h5.2M449.87 452.61h5.2M463.41 412.28V440.88M460.81 412.28h5.2M460.81 440.88h5.2" stroke="#ee2b24" stroke-width="0.85" fill="none"/><path d="M337.6 482.35L348.54 479.94L356.75 473.99L367.69 467.78L375.89 463.56L386.83 464.25L395.04 465.28L405.98 464.85L414.18 464.85L425.12 461.4L433.33 458.21L444.26 451.4L452.47 442.61L463.41 426.58" stroke="#ee2b24" stroke-width="0.85" fill="none" stroke-linejoin="round"/><rect x="335.25" y="480" width="4.7" height="4.7" fill="#ee2b24"/><rect x="346.19" y="477.59" width="4.7" height="4.7" fill="#ee2b24"/><rect x="354.39" y="471.64" width="4.7" height="4.7" fill="#ee2b24"/><rect x="365.33" y="465.43" width="4.7" height="4.7" fill="#ee2b24"/><rect x="373.54" y="461.21" width="4.7" height="4.7" fill="#ee2b24"/><rect x="384.48" y="461.9" width="4.7" height="4.7" fill="#ee2b24"/><rect x="392.69" y="462.93" width="4.7" height="4.7" fill="#ee2b24"/><rect x="403.62" y="462.5" width="4.7" height="4.7" fill="#ee2b24"/><rect x="411.83" y="462.5" width="4.7" height="4.7" fill="#ee2b24"/><rect x="422.77" y="459.05" width="4.7" height="4.7" fill="#ee2b24"/><rect x="430.98" y="455.86" width="4.7" height="4.7" fill="#ee2b24"/><rect x="441.91" y="449.05" width="4.7" height="4.7" fill="#ee2b24"/><rect x="450.12" y="440.26" width="4.7" height="4.7" fill="#ee2b24"/><rect x="461.06" y="424.23" width="4.7" height="4.7" fill="#ee2b24"/></g>
<g><path d="M348.54 469.18V475.18M345.94 469.18h5.2M345.94 475.18h5.2M356.75 456.46V465.66M354.14 456.46h5.2M354.14 465.66h5.2M367.69 445.87V449.87M365.08 445.87h5.2M365.08 449.87h5.2M375.89 429.1V438.7M373.29 429.1h5.2M373.29 438.7h5.2M386.83 416.35V433.35M384.23 416.35h5.2M384.23 433.35h5.2M395.04 406.36V429.56M392.44 406.36h5.2M392.44 429.56h5.2M405.98 399.3V427.3M403.38 399.3h5.2M403.38 427.3h5.2" stroke="#3b4da0" stroke-width="0.85" fill="none"/><path d="M337.6 480.37L348.54 472.18L356.75 461.06L367.69 447.87L375.89 433.9L386.83 424.85L395.04 417.96L405.98 413.3" stroke="#3b4da0" stroke-width="0.85" fill="none" stroke-linejoin="round"/><circle cx="337.6" cy="480.37" r="2.35" fill="#3b4da0"/><circle cx="348.54" cy="472.18" r="2.35" fill="#3b4da0"/><circle cx="356.75" cy="461.06" r="2.35" fill="#3b4da0"/><circle cx="367.69" cy="447.87" r="2.35" fill="#3b4da0"/><circle cx="375.89" cy="433.9" r="2.35" fill="#3b4da0"/><circle cx="386.83" cy="424.85" r="2.35" fill="#3b4da0"/><circle cx="395.04" cy="417.96" r="2.35" fill="#3b4da0"/><circle cx="405.98" cy="413.3" r="2.35" fill="#3b4da0"/></g>
<path d="M337.6 511L341 517.2L334.2 517.2Z" fill="#000"/><path d="M337.6 515V522" stroke="#000" stroke-width="0.85"/>
<path d="M355.92 511L359.32 517.2L352.52 517.2Z" fill="#000"/><path d="M355.92 515V522" stroke="#000" stroke-width="0.85"/>
<path d="M303.8 538.6H315.8" stroke="#3b4da0" stroke-width="0.85"/>
<circle cx="309.8" cy="538.6" r="2.1" fill="#3b4da0"/>
<text x="318.1" y="541.8" font-size="9.6" textLength="91.6" lengthAdjust="spacingAndGlyphs">IgG4 Control 25 mg/Kg</text>
<path d="M416.3 538.6H427.6" stroke="#ee2b24" stroke-width="0.85"/>
<rect x="419.85" y="536.5" width="4.2" height="4.2" fill="#ee2b24"/>
<text x="429.6" y="541.8" font-size="9.6" textLength="83" lengthAdjust="spacingAndGlyphs">METxMET 25 mg/Kg</text>
<path d="M345.8 551.4H357.6" stroke="#3fae49" stroke-width="0.85"/>
<path d="M351.7 549.53L353.57 552.85L349.83 552.85Z" fill="#3fae49"/>
<text x="359" y="554.6" font-size="9.6" textLength="107.3" lengthAdjust="spacingAndGlyphs">METxMET-M114 10 mg/Kg</text>
<!-- panel E -->
<text x="-0.1" y="610.2" font-size="18.3" font-weight="bold">E</text>
<text x="225.4" y="608" font-size="12.3" textLength="67.6" lengthAdjust="spacingAndGlyphs">NCI-H1975</text>
<g stroke="#111111" stroke-width="1.5" fill="none" stroke-linecap="butt"><path d="M64.6 618.55V721.4H227.95"/><path d="M74.2 721.4v4.2"/><path d="M125.2 721.4v4.2"/><path d="M176.2 721.4v4.2"/><path d="M227.2 721.4v4.2"/><path d="M64.6 721.4h-5.1"/><path d="M64.6 687.4h-5.1"/><path d="M64.6 653.4h-5.1"/><path d="M64.6 619.4h-5.1"/></g>
<text x="74.2" y="733.8" font-size="8.7" text-anchor="middle">0</text>
<text x="125.2" y="733.8" font-size="8.7" text-anchor="middle">10</text>
<text x="176.2" y="733.8" font-size="8.7" text-anchor="middle">20</text>
<text x="227.2" y="733.8" font-size="8.7" text-anchor="middle">30</text>
<text x="58.1" y="724.35" font-size="8.2" text-anchor="end">0</text>
<text x="58.1" y="690.35" font-size="8.2" text-anchor="end">500</text>
<text x="58.1" y="656.35" font-size="8.2" text-anchor="end">1,000</text>
<text x="58.1" y="622.35" font-size="8.2" text-anchor="end">1,500</text>
<text x="106.7" y="758.3" font-size="9.9" textLength="82.4" lengthAdjust="spacingAndGlyphs">Days post treatment</text>
<text transform="translate(29.5 670.2) rotate(-90)" font-size="9.6" text-anchor="middle" textLength="91.7" lengthAdjust="spacingAndGlyphs">Tumor volume (mm<tspan font-size="6.53" dy="-3.2">3</tspan><tspan dy="3.2">)</tspan></text>
<g><path d="M104.8 706.87V709.27M102.2 706.87h5.2M102.2 709.27h5.2M125.2 708.02V710.02M122.6 708.02h5.2M122.6 710.02h5.2M140.5 712.04V714.04M137.9 712.04h5.2M137.9 714.04h5.2M160.9 709.59V711.59M158.3 709.59h5.2M158.3 711.59h5.2M181.3 702.01V708.01M178.7 702.01h5.2M178.7 708.01h5.2M196.6 688.72V697.92M194 688.72h5.2M194 697.92h5.2" stroke="#3fae49" stroke-width="0.85" fill="none"/><path d="M69.1 711.2L104.8 708.07L125.2 709.02L140.5 713.04L160.9 710.59L181.3 705.01L196.6 693.32" stroke="#3fae49" stroke-width="0.85" fill="none" stroke-linejoin="round"/><path d="M69.1 708.78L71.52 713.07L66.68 713.07Z" fill="#3fae49"/><path d="M104.8 705.65L107.22 709.94L102.38 709.94Z" fill="#3fae49"/><path d="M125.2 706.6L127.62 710.89L122.78 710.89Z" fill="#3fae49"/><path d="M140.5 710.62L142.92 714.91L138.08 714.91Z" fill="#3fae49"/><path d="M160.9 708.17L163.32 712.46L158.48 712.46Z" fill="#3fae49"/><path d="M181.3 702.59L183.72 706.88L178.88 706.88Z" fill="#3fae49"/><path d="M196.6 690.9L199.02 695.19L194.18 695.19Z" fill="#3fae49"/></g>
<g><path d="M104.8 695.78V703.78M102.2 695.78h5.2M102.2 703.78h5.2M125.2 687.32V699.32M122.6 687.32h5.2M122.6 699.32h5.2M140.5 681.03V697.03M137.9 681.03h5.2M137.9 697.03h5.2M160.9 659.84V678.24M158.3 659.84h5.2M158.3 678.24h5.2M181.3 641.33V665.33M178.7 641.33h5.2M178.7 665.33h5.2M196.6 621.48V648.88M194 621.48h5.2M194 648.88h5.2" stroke="#ee2b24" stroke-width="0.85" fill="none"/><path d="M69.1 711.2L104.8 699.78L125.2 693.32L140.5 689.03L160.9 669.04L181.3 653.33L196.6 635.18" stroke="#ee2b24" stroke-width="0.85" fill="none" stroke-linejoin="round"/><rect x="66.75" y="708.85" width="4.7" height="4.7" fill="#ee2b24"/><rect x="102.45" y="697.43" width="4.7" height="4.7" fill="#ee2b24"/><rect x="122.85" y="690.97" width="4.7" height="4.7" fill="#ee2b24"/><rect x="138.15" y="686.68" width="4.7" height="4.7" fill="#ee2b24"/><rect x="158.55" y="666.69" width="4.7" height="4.7" fill="#ee2b24"/><rect x="178.95" y="650.98" width="4.7" height="4.7" fill="#ee2b24"/><rect x="194.25" y="632.83" width="4.7" height="4.7" fill="#ee2b24"/></g>
<g><path d="M104.8 668.32V678.32M102.2 668.32h5.2M102.2 678.32h5.2M125.2 638.25V653.05M122.6 638.25h5.2M122.6 653.05h5.2" stroke="#3b4da0" stroke-width="0.85" fill="none"/><path d="M69.1 711.2L104.8 673.32L125.2 645.65" stroke="#3b4da0" stroke-width="0.85" fill="none" stroke-linejoin="round"/><circle cx="69.1" cy="711.2" r="2.35" fill="#3b4da0"/><circle cx="104.8" cy="673.32" r="2.35" fill="#3b4da0"/><circle cx="125.2" cy="645.65" r="2.35" fill="#3b4da0"/></g>
<path d="M74.2 736.2L77.6 742.4L70.8 742.4Z" fill="#000"/><path d="M74.2 740.2V746.5" stroke="#000" stroke-width="0.85"/>
<path d="M104.8 736.2L108.2 742.4L101.4 742.4Z" fill="#000"/><path d="M104.8 740.2V746.5" stroke="#000" stroke-width="0.85"/>
<path d="M19.5 771.3H31.3" stroke="#3b4da0" stroke-width="0.85"/>
<circle cx="25.4" cy="771.3" r="1.8" fill="#3b4da0"/>
<text x="36.3" y="774.5" font-size="9.5" textLength="112.5" lengthAdjust="spacingAndGlyphs">IgG4 Control-M114 10 mg/kg</text>
<path d="M152.5 771.3H163.8" stroke="#ee2b24" stroke-width="0.85"/>
<rect x="156.15" y="769.3" width="4" height="4" fill="#ee2b24"/>
<text x="167" y="774.5" font-size="9.5" textLength="99.8" lengthAdjust="spacingAndGlyphs">METxMET-M114 3 mg/kg</text>
<path d="M89.5 785.2H100.2" stroke="#3fae49" stroke-width="0.85"/>
<path d="M94.85 783.22L96.83 786.73L92.87 786.73Z" fill="#3fae49"/>
<text x="103.8" y="788.3" font-size="9.5" textLength="105.8" lengthAdjust="spacingAndGlyphs">METxMET-M114 10 mg/kg</text>
<g stroke="#111111" stroke-width="1.5" fill="none" stroke-linecap="butt"><path d="M337.6 621.25V722.2H496.15"/><path d="M337.6 722.2v4.2"/><path d="M377 722.2v4.2"/><path d="M416.4 722.2v4.2"/><path d="M455.8 722.2v4.2"/><path d="M495.2 722.2v4.2"/><path d="M337.6 722.2h-5.1"/><path d="M337.6 702.2h-5.1"/><path d="M337.6 682.2h-5.1"/><path d="M337.6 662.2h-5.1"/><path d="M337.6 642.2h-5.1"/><path d="M337.6 622.2h-5.1"/></g>
<text x="337.6" y="734.4" font-size="8.2" text-anchor="middle">0</text>
<text x="377" y="734.4" font-size="8.2" text-anchor="middle">5</text>
<text x="416.4" y="734.4" font-size="8.2" text-anchor="middle">10</text>
<text x="455.8" y="734.4" font-size="8.2" text-anchor="middle">15</text>
<text x="495.2" y="734.4" font-size="8.2" text-anchor="middle">20</text>
<text x="331.8" y="725.15" font-size="8.2" text-anchor="end">0</text>
<text x="331.8" y="705.15" font-size="8.2" text-anchor="end">500</text>
<text x="331.8" y="685.15" font-size="8.2" text-anchor="end">1,000</text>
<text x="331.8" y="665.15" font-size="8.2" text-anchor="end">1,500</text>
<text x="331.8" y="645.15" font-size="8.2" text-anchor="end">2,000</text>
<text x="331.8" y="625.15" font-size="8.2" text-anchor="end">2,500</text>
<text x="376.9" y="758.7" font-size="9.9" textLength="82.1" lengthAdjust="spacingAndGlyphs">Days post treatment</text>
<text transform="translate(303.5 670.2) rotate(-90)" font-size="9.6" text-anchor="middle" textLength="91.7" lengthAdjust="spacingAndGlyphs">Tumor volume (mm<tspan font-size="6.53" dy="-3.2">3</tspan><tspan dy="3.2">)</tspan></text>
<g><path d="M369.12 706.2V710.2M366.52 706.2h5.2M366.52 710.2h5.2M392.76 690.2V700.2M390.16 690.2h5.2M390.16 700.2h5.2M424.28 664.9V680.3M421.68 664.9h5.2M421.68 680.3h5.2M447.92 657.8V671.8M445.32 657.8h5.2M445.32 671.8h5.2M479.44 641.8V657.8M476.84 641.8h5.2M476.84 657.8h5.2" stroke="#ee2b24" stroke-width="0.85" fill="none"/><path d="M337.6 716.72L369.12 708.2L392.76 695.2L424.28 672.6L447.92 664.8L479.44 649.8" stroke="#ee2b24" stroke-width="0.85" fill="none" stroke-linejoin="round"/><rect x="335.3" y="714.42" width="4.6" height="4.6" fill="#ee2b24"/><rect x="366.82" y="705.9" width="4.6" height="4.6" fill="#ee2b24"/><rect x="390.46" y="692.9" width="4.6" height="4.6" fill="#ee2b24"/><rect x="421.98" y="670.3" width="4.6" height="4.6" fill="#ee2b24"/><rect x="445.62" y="662.5" width="4.6" height="4.6" fill="#ee2b24"/><rect x="477.14" y="647.5" width="4.6" height="4.6" fill="#ee2b24"/></g>
<g><path d="M369.12 708.02V711.02M366.52 708.02h5.2M366.52 711.02h5.2M392.76 700.5V705.5M390.16 700.5h5.2M390.16 705.5h5.2M424.28 686.5V691.5M421.68 686.5h5.2M421.68 691.5h5.2M447.92 669.2V679.2M445.32 669.2h5.2M445.32 679.2h5.2M479.44 648.5V659.5M476.84 648.5h5.2M476.84 659.5h5.2" stroke="#3b4da0" stroke-width="0.85" fill="none"/><path d="M337.6 716.72L369.12 709.52L392.76 703L424.28 689L447.92 674.2L479.44 654" stroke="#3b4da0" stroke-width="0.85" fill="none" stroke-linejoin="round"/><circle cx="337.6" cy="716.72" r="2.3" fill="#3b4da0"/><circle cx="369.12" cy="709.52" r="2.3" fill="#3b4da0"/><circle cx="392.76" cy="703" r="2.3" fill="#3b4da0"/><circle cx="424.28" cy="689" r="2.3" fill="#3b4da0"/><circle cx="447.92" cy="674.2" r="2.3" fill="#3b4da0"/><circle cx="479.44" cy="654" r="2.3" fill="#3b4da0"/></g>
<path d="M303 771.2H314.6" stroke="#3b4da0" stroke-width="0.85"/>
<circle cx="308.8" cy="771.2" r="1.8" fill="#3b4da0"/>
<text x="318.8" y="774.3" font-size="9.5" textLength="88.8" lengthAdjust="spacingAndGlyphs">IgG4 Control 25 mg/kg</text>
<path d="M413 771.2H425" stroke="#ee2b24" stroke-width="0.85"/>
<rect x="417" y="769.2" width="4" height="4" fill="#ee2b24"/>
<text x="430" y="774.3" font-size="9.5" textLength="81.3" lengthAdjust="spacingAndGlyphs">METxMET 25 mg/kg</text>
<!-- panel C -->
<text x="63.3" y="238.5" font-size="18.3" font-weight="bold">C</text>
<text x="119.4" y="238.3" font-size="12.4" textLength="43.4" lengthAdjust="spacingAndGlyphs">Hs746T</text>
<text x="230.8" y="238.3" font-size="12.4" textLength="55" lengthAdjust="spacingAndGlyphs">NCI-H441</text>
<text x="343.5" y="238.3" font-size="12.4" textLength="63.5" lengthAdjust="spacingAndGlyphs">NCI-H1975</text>
<defs><filter id="tDark" x="0" y="0" width="1" height="1" color-interpolation-filters="sRGB"><feTurbulence type="fractalNoise" baseFrequency="0.5" numOctaves="2" seed="4" result="n"/><feColorMatrix in="n" type="matrix" values="2.3 0 0 0 -0.7 2.3 0 0 0 -0.7 2.3 0 0 0 -0.7 0 0 0 0 1"/><feComponentTransfer result="c"><feFuncR type="table" tableValues="0.18 0.30 0.41 0.50 0.62 0.82"/><feFuncG type="table" tableValues="0.07 0.12 0.18 0.25 0.38 0.64"/><feFuncB type="table" tableValues="0.04 0.07 0.11 0.17 0.30 0.58"/></feComponentTransfer><feComposite in="c" operator="in" in2="SourceGraphic"/></filter><filter id="tDarkR" x="0" y="0" width="1" height="1" color-interpolation-filters="sRGB"><feTurbulence type="fractalNoise" baseFrequency="0.5" numOctaves="2" seed="4" result="n"/><feColorMatrix in="n" type="matrix" values="2.3 0 0 0 -0.7 2.3 0 0 0 -0.7 2.3 0 0 0 -0.7 0 0 0 0 1"/><feComponentTransfer result="c"><feFuncR type="table" tableValues="0.18 0.30 0.41 0.50 0.62 0.82"/><feFuncG type="table" tableValues="0.07 0.12 0.18 0.25 0.38 0.64"/><feFuncB type="table" tableValues="0.04 0.07 0.11 0.17 0.30 0.58"/></feComponentTransfer><feTurbulence type="fractalNoise" baseFrequency="0.18" numOctaves="2" seed="34" result="d"/><feDisplacementMap in="SourceGraphic" in2="d" scale="7" xChannelSelector="R" yChannelSelector="G" result="m"/><feGaussianBlur in="m" stdDeviation="0.5" result="mb"/><feComposite in="c" in2="mb" operator="in"/></filter><filter id="tDark2" x="0" y="0" width="1" height="1" color-interpolation-filters="sRGB"><feTurbulence type="fractalNoise" baseFrequency="0.33" numOctaves="2" seed="9" result="n"/><feColorMatrix in="n" type="matrix" values="2.4 0 0 0 -0.72 2.4 0 0 0 -0.72 2.4 0 0 0 -0.72 0 0 0 0 1"/><feComponentTransfer result="c"><feFuncR type="table" tableValues="0.16 0.28 0.40 0.50 0.64 0.82"/><feFuncG type="table" tableValues="0.06 0.11 0.18 0.25 0.40 0.62"/><feFuncB type="table" tableValues="0.03 0.06 0.11 0.16 0.31 0.55"/></feComponentTransfer><feComposite in="c" operator="in" in2="SourceGraphic"/></filter><filter id="tLav" x="0" y="0" width="1" height="1" color-interpolation-filters="sRGB"><feTurbulence type="fractalNoise" baseFrequency="0.35" numOctaves="2" seed="7" result="n"/><feColorMatrix in="n" type="matrix" values="2.0 0 0 0 -0.5 2.0 0 0 0 -0.5 2.0 0 0 0 -0.5 0 0 0 0 1"/><feComponentTransfer result="c"><feFuncR type="table" tableValues="0.75 0.80 0.83 0.87"/><feFuncG type="table" tableValues="0.71 0.77 0.81 0.85"/><feFuncB type="table" tableValues="0.79 0.83 0.86 0.90"/></feComponentTransfer><feComposite in="c" operator="in" in2="SourceGraphic"/></filter><filter id="tMid" x="0" y="0" width="1" height="1" color-interpolation-filters="sRGB"><feTurbulence type="fractalNoise" baseFrequency="0.55" numOctaves="2" seed="11" result="n"/><feColorMatrix in="n" type="matrix" values="1.8 0 0 0 -0.42 1.8 0 0 0 -0.42 1.8 0 0 0 -0.42 0 0 0 0 1"/><feComponentTransfer result="c"><feFuncR type="table" tableValues="0.38 0.50 0.59 0.67 0.78 0.90"/><feFuncG type="table" tableValues="0.20 0.29 0.38 0.47 0.62 0.80"/><feFuncB type="table" tableValues="0.12 0.19 0.27 0.36 0.52 0.73"/></feComponentTransfer><feComposite in="c" operator="in" in2="SourceGraphic"/></filter><filter id="tMid2" x="0" y="0" width="1" height="1" color-interpolation-filters="sRGB"><feTurbulence type="fractalNoise" baseFrequency="0.36" numOctaves="2" seed="5" result="n"/><feColorMatrix in="n" type="matrix" values="1.8 0 0 0 -0.42 1.8 0 0 0 -0.42 1.8 0 0 0 -0.42 0 0 0 0 1"/><feComponentTransfer result="c"><feFuncR type="table" tableValues="0.36 0.48 0.58 0.67 0.79 0.91"/><feFuncG type="table" tableValues="0.18 0.27 0.36 0.46 0.63 0.81"/><feFuncB type="table" tableValues="0.10 0.17 0.25 0.35 0.53 0.75"/></feComponentTransfer><feComposite in="c" operator="in" in2="SourceGraphic"/></filter><filter id="tPale" x="0" y="0" width="1" height="1" color-interpolation-filters="sRGB"><feTurbulence type="fractalNoise" baseFrequency="0.42" numOctaves="3" seed="13" result="n"/><feColorMatrix in="n" type="matrix" values="1.9 0 0 0 -0.5 1.9 0 0 0 -0.5 1.9 0 0 0 -0.5 0 0 0 0 1"/><feComponentTransfer result="c"><feFuncR type="table" tableValues="0.79 0.83 0.86 0.88 0.91"/><feFuncG type="table" tableValues="0.70 0.77 0.82 0.85 0.89"/><feFuncB type="table" tableValues="0.63 0.73 0.80 0.85 0.90"/></feComponentTransfer><feComposite in="c" operator="in" in2="SourceGraphic"/></filter><filter id="tPale2" x="0" y="0" width="1" height="1" color-interpolation-filters="sRGB"><feTurbulence type="fractalNoise" baseFrequency="0.26" numOctaves="3" seed="21" result="n"/><feColorMatrix in="n" type="matrix" values="1.9 0 0 0 -0.45 1.9 0 0 0 -0.45 1.9 0 0 0 -0.45 0 0 0 0 1"/><feComponentTransfer result="c"><feFuncR type="table" tableValues="0.79 0.84 0.88 0.91 0.93"/><feFuncG type="table" tableValues="0.72 0.79 0.85 0.89 0.92"/><feFuncB type="table" tableValues="0.67 0.77 0.85 0.91 0.95"/></feComponentTransfer><feComposite in="c" operator="in" in2="SourceGraphic"/></filter><filter id="tBlob" x="0" y="0" width="1" height="1" color-interpolation-filters="sRGB"><feTurbulence type="fractalNoise" baseFrequency="0.45" numOctaves="2" seed="17" result="n"/><feColorMatrix in="n" type="matrix" values="2.4 0 0 0 -0.7 2.4 0 0 0 -0.7 2.4 0 0 0 -0.7 0 0 0 0 1"/><feComponentTransfer result="c"><feFuncR type="table" tableValues="0.50 0.60 0.68 0.80 0.95"/><feFuncG type="table" tableValues="0.34 0.44 0.54 0.72 0.94"/><feFuncB type="table" tableValues="0.28 0.38 0.48 0.68 0.93"/></feComponentTransfer><feTurbulence type="fractalNoise" baseFrequency="0.18" numOctaves="2" seed="47" result="d"/><feDisplacementMap in="SourceGraphic" in2="d" scale="3" xChannelSelector="R" yChannelSelector="G" result="m"/><feGaussianBlur in="m" stdDeviation="0.5" result="mb"/><feComposite in="c" in2="mb" operator="in"/></filter><filter id="soft" x="-0.2" y="-0.2" width="1.4" height="1.4"><feGaussianBlur stdDeviation="0.7"/></filter><filter id="soft2" x="-0.2" y="-0.2" width="1.4" height="1.4"><feGaussianBlur stdDeviation="1.3"/></filter><clipPath id="box0"><rect x="86.5" y="245.3" width="109.4" height="90.4"/></clipPath><clipPath id="box1"><rect x="203.4" y="245.3" width="110.2" height="90.4"/></clipPath><clipPath id="box2"><rect x="320.9" y="245.3" width="109.5" height="90.4"/></clipPath></defs>
<g clip-path="url(#box0)"><rect x="86" y="244.8" width="110.4" height="91.4" fill="#fff"/><rect x="103.6" y="259.2" width="36.4" height="20" fill="#f0f0f1"/><g filter="url(#soft)"><ellipse cx="114" cy="268.5" rx="2.5" ry="7" transform="rotate(-10 113.8 268.3)" fill="#6c3524"/><ellipse cx="114.1" cy="269.3" rx="0.9" ry="3.2" transform="rotate(-10 114.1 269.3)" fill="#c99a86"/></g><rect x="141" y="244.8" width="56" height="46" filter="url(#tLav)" fill="#000"/><g filter="url(#soft2)" opacity="0.75"><path d="M197 264L178 261.5L169 264L161 268L154.5 274L150 282L147.5 291H197Z" fill="#8c5a52"/><path d="M169 244L197 244V257.5L186 258.5L176 255.5L171 250Z" fill="#8c5a52"/></g><path d="M198 264.5L179 262L171 264.5L163.5 268.5L157.5 274.5L153 282.5L150.5 292H198Z" filter="url(#tDarkR)" fill="#000"/><path d="M171 244L198 244V258.5L187 259.5L178 256.5L173.5 251.5Z" filter="url(#tDarkR)" fill="#000"/><rect x="86" y="290" width="55.5" height="47" filter="url(#tLav)" fill="#000"/><path d="M86 320L99 312.5L112.5 308.5L123.5 305L134.5 303L141.5 301.5V337H86Z" fill="#8c5a52" filter="url(#soft2)" opacity="0.7"/><path d="M86 322L92 319L99 314.5L106 312.5L112.5 310L118 308.5L123.5 306.5L129 306L134.5 304.5L141.5 303V337H86Z" filter="url(#tDarkR)" fill="#000"/><rect x="141" y="290" width="56" height="47" filter="url(#tDark2)" fill="#000"/><path d="M141 290H197V292.5L180 293L168.5 293.5L160 299L150 302L141 305.5Z" filter="url(#tLav)" fill="#000"/><path d="M141.2 244.8V336.2M86 290.4H196.4" stroke="#1a1210" stroke-width="1.1" fill="none"/></g><rect x="86.5" y="245.3" width="109.4" height="90.4" fill="none" stroke="#000" stroke-width="1.1"/><text x="145.6" y="255" font-size="9" textLength="11.6" lengthAdjust="spacingAndGlyphs" font-weight="bold" stroke="#000" stroke-width="0.45" style="fill:#000">4x</text><text x="89" y="299.9" font-size="9" textLength="16.7" lengthAdjust="spacingAndGlyphs" font-weight="bold" stroke="#000" stroke-width="0.45" style="fill:#000">10x</text><text x="145.2" y="299.9" font-size="9" textLength="17.4" lengthAdjust="spacingAndGlyphs" font-weight="bold" stroke="#000" stroke-width="0.45" style="fill:#000">20x</text>
<g clip-path="url(#box1)"><rect x="202.9" y="244.8" width="111.2" height="91.4" fill="#fff"/><rect x="202.9" y="259.2" width="56" height="21.5" fill="#f2f2f2"/><g filter="url(#tBlob)" fill="#000"><ellipse cx="212.7" cy="262.8" rx="4.2" ry="3" transform="rotate(20 212.7 262.8)"/><ellipse cx="216.8" cy="267.8" rx="4" ry="5" transform="rotate(-10 216.8 267.8)"/><ellipse cx="208.6" cy="270.3" rx="3.6" ry="3.4" transform="rotate(0 208.6 270.3)"/><ellipse cx="212.7" cy="270.3" rx="3" ry="4" transform="rotate(0 212.7 270.3)"/><ellipse cx="212.2" cy="276.3" rx="4.4" ry="3" transform="rotate(25 212.2 276.3)"/><ellipse cx="216.7" cy="274.3" rx="2.4" ry="2.4" transform="rotate(0 216.7 274.3)"/></g><g filter="url(#tBlob)" fill="#000"><ellipse cx="244.7" cy="262.8" rx="4.2" ry="3" transform="rotate(20 244.7 262.8)"/><ellipse cx="248.8" cy="267.8" rx="4" ry="5" transform="rotate(-10 248.8 267.8)"/><ellipse cx="240.6" cy="270.3" rx="3.6" ry="3.4" transform="rotate(0 240.6 270.3)"/><ellipse cx="244.7" cy="270.3" rx="3" ry="4" transform="rotate(0 244.7 270.3)"/><ellipse cx="244.2" cy="276.3" rx="4.4" ry="3" transform="rotate(25 244.2 276.3)"/><ellipse cx="248.7" cy="274.3" rx="2.4" ry="2.4" transform="rotate(0 248.7 274.3)"/></g><rect x="258.5" y="244.8" width="56" height="46" filter="url(#tMid)" fill="#000"/><rect x="202.9" y="290" width="56" height="47" filter="url(#tMid2)" fill="#000"/><rect x="258.5" y="290" width="56" height="47" filter="url(#tMid2)" fill="#000"/><path d="M259 246H272L286 256L283 259L270 253L259 252Z" fill="#f1e6df" filter="url(#soft2)" opacity="0.85"/><g filter="url(#soft)" fill="#eee5de"><path d="M279 250.5L284 251L283.5 254L280 254.5Z"/><path d="M276 266.5L282.5 267L283.5 271L279 272.5L275.5 270Z"/><path d="M304.5 247L311 247.5L311.5 251L306 251.5Z"/><path d="M308 256L312.5 256.5L312.5 262L308.5 262Z"/><path d="M294 278.5L298 279L297.5 282L294.5 281.5Z"/><path d="M266.5 260.5L270 261L269.5 263.5L266.5 263.5Z"/><path d="M215.5 306L221 304.5L227 306.5L226 311.5L220.5 312.5L216 310.5Z"/><path d="M209.5 314L216 312.5L222 315.5L220.5 319.5L212 320Z"/><path d="M230 325L234.5 325.5L234 329.5L230.5 329.5Z"/><path d="M243.5 310.5L246.5 311L246 313.5L243.5 313.5Z"/><path d="M208 328.5L212 329L211.5 331.5L208 331.5Z"/><path d="M260 309L266.5 308L269 313L267 321L263.5 326.5L259.8 324Z"/><path d="M260.5 301L268 300.5L274 303.5L272 307L262 306.5Z"/><path d="M298 304L305 303L306.5 308L302 311.5L298.5 310Z"/><path d="M303.5 299.5L308 300L307.5 303.5L303.5 303Z"/><path d="M283.5 323.5L287 324L286.5 326.5L283.5 326.5Z"/><path d="M292.5 296.5L296 297L295.5 299.5L292.5 299Z"/></g><path d="M258.6 244.8V336.2M202.9 290.4H314.1" stroke="#2a1a12" stroke-width="1.1" fill="none"/></g><rect x="203.4" y="245.3" width="110.2" height="90.4" fill="none" stroke="#000" stroke-width="1.1"/><text x="262.6" y="255" font-size="9" textLength="11.6" lengthAdjust="spacingAndGlyphs" font-weight="bold" stroke="#000" stroke-width="0.45" style="fill:#000">4x</text><text x="206" y="299.9" font-size="9" textLength="16.7" lengthAdjust="spacingAndGlyphs" font-weight="bold" stroke="#000" stroke-width="0.45" style="fill:#000">10x</text><text x="262.2" y="299.9" font-size="9" textLength="17.4" lengthAdjust="spacingAndGlyphs" font-weight="bold" stroke="#000" stroke-width="0.45" style="fill:#000">20x</text>
<g clip-path="url(#box2)"><rect x="320.4" y="244.8" width="110.5" height="91.4" fill="#fff"/><rect x="320.4" y="260" width="56" height="19.8" fill="#f4f4f4"/><g filter="url(#soft)"><ellipse cx="328.4" cy="266.8" rx="3.9" ry="5.2" transform="rotate(-30 328.4 266.8)" fill="#d6cfcc"/><ellipse cx="328.9" cy="267.4" rx="2.1" ry="3.1" transform="rotate(-30 328.4 266.8)" fill="#ebe6e4"/><ellipse cx="341.2" cy="272.2" rx="3.9" ry="5.2" transform="rotate(25 341.2 272.2)" fill="#d6cfcc"/><ellipse cx="341.7" cy="272.8" rx="2.1" ry="3.1" transform="rotate(25 341.2 272.2)" fill="#ebe6e4"/><ellipse cx="356.2" cy="267.2" rx="3.9" ry="5.2" transform="rotate(-30 356.2 267.2)" fill="#d6cfcc"/><ellipse cx="356.7" cy="267.8" rx="2.1" ry="3.1" transform="rotate(-30 356.2 267.2)" fill="#ebe6e4"/><ellipse cx="370.2" cy="271.4" rx="3.9" ry="5.2" transform="rotate(20 370.2 271.4)" fill="#d6cfcc"/><ellipse cx="370.7" cy="272" rx="2.1" ry="3.1" transform="rotate(20 370.2 271.4)" fill="#ebe6e4"/></g><rect x="376" y="244.8" width="56" height="46" filter="url(#tPale)" fill="#000"/><rect x="320.4" y="290" width="56" height="47" filter="url(#tPale)" fill="#000"/><rect x="376" y="290" width="56" height="47" filter="url(#tPale2)" fill="#000"/><g filter="url(#soft2)" fill="#c5c4d6" opacity="0.7"><ellipse cx="404" cy="318" rx="3" ry="9" transform="rotate(35 404 318)"/><ellipse cx="418" cy="306" rx="2.4" ry="7" transform="rotate(40 418 306)"/><ellipse cx="424" cy="322" rx="2" ry="5" transform="rotate(30 424 322)"/></g><path d="M376.2 244.8V336.2M320.4 290.4H430.9" stroke="#2a2422" stroke-width="1.1" fill="none"/></g><rect x="320.9" y="245.3" width="109.5" height="90.4" fill="none" stroke="#000" stroke-width="1.1"/><text x="380.2" y="255" font-size="9" textLength="11.6" lengthAdjust="spacingAndGlyphs" font-weight="bold" stroke="#000" stroke-width="0.45" style="fill:#000">4x</text><text x="323.6" y="299.9" font-size="9" textLength="16.7" lengthAdjust="spacingAndGlyphs" font-weight="bold" stroke="#000" stroke-width="0.45" style="fill:#000">10x</text><text x="379.8" y="299.9" font-size="9" textLength="17.4" lengthAdjust="spacingAndGlyphs" font-weight="bold" stroke="#000" stroke-width="0.45" style="fill:#000">20x</text>
</svg>
</body></html>
